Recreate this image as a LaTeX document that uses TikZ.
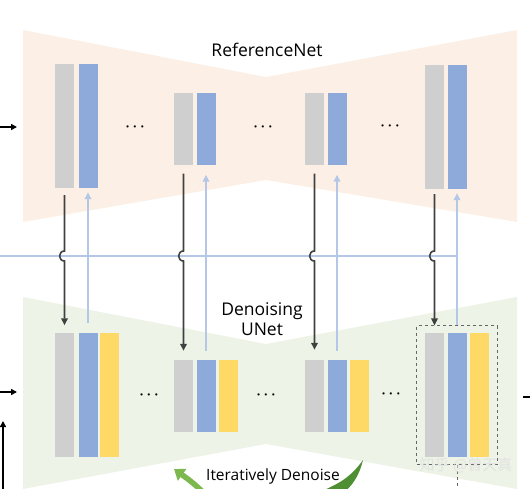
\documentclass[tikz,border=0pt]{standalone}
\usepackage{fontspec}
\setmainfont{Open Sans}
\newfontfamily\cjkfont{Noto Sans CJK SC}
\usetikzlibrary{arrows.meta,fit}
\definecolor{peach}{HTML}{FCF0E6}
\definecolor{greenbg}{HTML}{EDF3E6}
\definecolor{blkgray}{HTML}{D0CFCF}
\definecolor{blkblue}{HTML}{8EAADB}
\definecolor{blkyel}{HTML}{FFD966}
\definecolor{darkarr}{HTML}{404040}
\definecolor{lightarr}{HTML}{B4C7E7}
\definecolor{greenA}{HTML}{7DB84F}
\definecolor{greenB}{HTML}{4E8F34}
\tikzset{
  blk/.style={rectangle, inner sep=0pt, minimum width=19pt},
  gblk/.style={blk, fill=blkgray},
  bblk/.style={blk, fill=blkblue},
  yblk/.style={blk, fill=blkyel},
  tall/.style={minimum height=124pt},
  short/.style={minimum height=72pt},
  darkline/.style={draw=darkarr, line width=1.6pt, -{Triangle[length=7pt,width=6.5pt]}},
  lightline/.style={draw=lightarr, line width=1.6pt, -{Triangle[length=7pt,width=6.5pt]}},
  hline/.style={draw=lightarr, line width=1.2pt},
  dots/.style={font=\fontsize{14.5}{14.5}\selectfont\boldmath},
  title/.style={font=\fontsize{17.5}{20.5}\selectfont, align=center},
  inarrow/.style={draw=black, line width=1.6pt, -{Triangle[length=6pt,width=6pt]}},
}
\begin{document}
\begin{tikzpicture}[x=1pt,y=-1pt]
\useasboundingbox (0,0) rectangle (530,488);
\begin{scope}
\clip (0,0) rectangle (530,488);
% backgrounds
\fill[peach] (23,30) -- (266,77) -- (517,30) -- (517,222) -- (266,180) -- (23,222) -- cycle;
\fill[greenbg] (23,297) -- (266,344) -- (517,297) -- (517,489) -- (266,444) -- (23,489) -- cycle;

% ReferenceNet blocks
\node[gblk,tall] (r1g) at (64.5,126) {};
\node[bblk,tall] (r1b) at (88,126) {};
\node[gblk,short] (r2g) at (183.5,128.5) {};
\node[bblk,short] (r2b) at (206,128.5) {};
\node[gblk,short] (r3g) at (314.5,128.5) {};
\node[bblk,short] (r3b) at (337,128.5) {};
\node[gblk,tall] (r4g) at (434.5,127) {};
\node[bblk,tall] (r4b) at (457,127) {};
\node[dots] (rd1) at (135,127) {$\cdots$};
\node[dots] (rd2) at (263,127) {$\cdots$};
\node[dots] (rd3) at (390,126) {$\cdots$};
\node[title] (rtitle) at (267,50) {ReferenceNet};

% Denoising blocks
\node[gblk,tall] (d1g) at (64.5,394.5) {};
\node[bblk,tall] (d1b) at (88,394.5) {};
\node[yblk,tall] (d1y) at (109.5,394.5) {};
\node[gblk,short] (d2g) at (183.5,396) {};
\node[bblk,short] (d2b) at (206,396) {};
\node[yblk,short] (d2y) at (228.5,396) {};
\node[gblk,short] (d3g) at (314.5,396) {};
\node[bblk,short] (d3b) at (337,396) {};
\node[yblk,short] (d3y) at (359.5,396) {};
\node[gblk,tall] (d4g) at (434.5,395) {};
\node[bblk,tall] (d4b) at (457,395) {};
\node[yblk,tall] (d4y) at (479.5,395) {};
\node[draw=darkarr!80, dashed, line width=0.8pt, inner xsep=8pt, inner ysep=7pt, fit=(d4g)(d4y)] (dbox) {};
\node[dots] (dd1) at (149,395) {$\cdots$};
\node[dots] (dd2) at (266,395) {$\cdots$};
\node[dots] (dd3) at (391,394) {$\cdots$};
\node[title] (dtitle) at (262,319) {Denoising\\UNet};

% horizontal line
\coordinate (hlL) at (0,256);
\draw[hline] (hlL) -- (hlL -| r4b.center);

% light blue upward arrows
\draw[lightline] ([yshift=9pt]d1b.north) -- ([yshift=-4pt]r1b.south);
\draw[lightline] ([yshift=9pt]d2b.north) -- ([yshift=-10pt]r2b.south);
\draw[lightline] ([yshift=9pt]d3b.north) -- ([yshift=-10pt]r3b.south);
\draw[lightline] (dbox.north -| r4b.south) -- ([yshift=-4pt]r4b.south);

% dark downward arrows with hop
\foreach \a/\b/\s/\e in {r1g/d1g/7/7, r2g/d2g/9/9, r3g/d3g/9/10}{
  \draw[darkline] ([yshift=-\s pt]\a.south) -- ([yshift=5pt]\a.south |- hlL)
    .. controls +(-6.5,0) and +(-6.5,0) .. ([yshift=-5pt]\a.south |- hlL)
    -- ([yshift=\e pt]\b.north);
}
\draw[darkline] ([yshift=-5pt]r4g.south) -- ([yshift=5pt]r4g.south |- hlL)
    .. controls +(-6.5,0) and +(-6.5,0) .. ([yshift=-5pt]r4g.south |- hlL)
    -- (dbox.north -| r4g.south);

% input / output arrows
\coordinate (in1s) at (0,127);
\coordinate (in1e) at (17,127);
\draw[inarrow] (in1s) -- (in1e);
\coordinate (in2s) at (0,392);
\coordinate (in2e) at (17,392);
\draw[inarrow] (in2s) -- (in2e);
\coordinate (up1s) at (3,490);
\coordinate (up1e) at (3,421);
\draw[inarrow] (up1s) -- (up1e);
\coordinate (outS) at (523,397);
\coordinate (outE) at (531,397);
\draw[draw=black, line width=1.6pt] (outS) -- (outE);
\coordinate (dEnd) at (457,490);
\draw[draw=darkarr!80, dashed, line width=0.8pt] (dbox.south -| r4b.south) -- (dEnd);

% iteratively denoise
\node[font=\fontsize{15.5}{18}\selectfont] (iter) at (273,476) {Iteratively Denoise};
\draw[greenA, line width=5.5pt, -{Triangle[length=10pt,width=14pt]}] (204,493) .. controls (192,482) .. (174,469);
\fill[greenB] (324,490) .. controls (343,482) and (353,474) .. (363,460)
   .. controls (359,477) and (351,487) .. (343,493) -- cycle;

% watermark
\node[font=\cjkfont\fontsize{15}{15}\selectfont, text=white!75!gray, opacity=0.8] (wm) at (466,465) {知乎 @曾天真};
\end{scope}
\end{tikzpicture}
\end{document}
